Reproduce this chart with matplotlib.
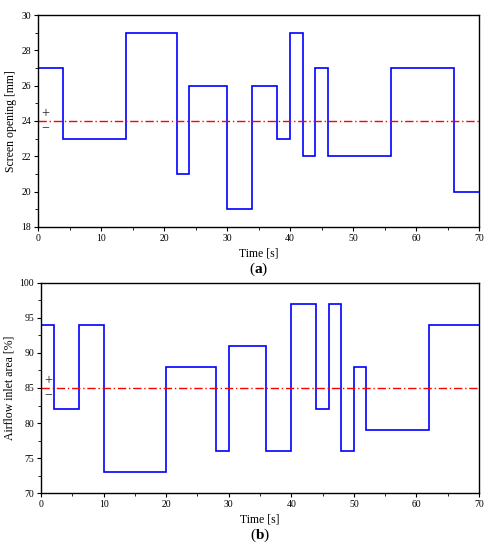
import numpy as np
import matplotlib
matplotlib.use("Agg")
import matplotlib.pyplot as plt
from matplotlib.ticker import MultipleLocator

plt.rcParams['font.family'] = ['Liberation Serif', 'DejaVu Serif']
plt.rcParams['mathtext.fontset'] = 'custom'
plt.rcParams['mathtext.rm'] = 'Liberation Serif'
plt.rcParams['mathtext.bf'] = 'Liberation Serif:bold'

# (a) screen opening, step changes
t_a = [0, 4, 14, 22, 24, 30, 34, 38, 40, 42, 44, 46, 56, 66, 70]
v_a = [27, 23, 29, 21, 26, 19, 26, 23, 29, 22, 27, 22, 27, 20]
ref_a = 24

# (b) airflow inlet area, step changes
t_b = [0, 2, 6, 10, 20, 28, 30, 36, 40, 44, 46, 48, 50, 52, 62, 70]
v_b = [94, 82, 94, 73, 88, 76, 91, 76, 97, 82, 97, 76, 88, 79, 94]
ref_b = 85

fig = plt.figure(figsize=(4.9, 5.5), dpi=100)
ax1 = fig.add_axes([0.0776, 0.5873, 0.9, 0.3854])
ax2 = fig.add_axes([0.0837, 0.1036, 0.8939, 0.3819])


def draw(ax, t, v, ref, ylim, ymaj, ylabel, tag, off):
    ax.stairs(v, t, color='#0000ff', lw=1.2, baseline=None)
    ax.axhline(ref, color='#ff0000', lw=1.0, ls=(0, (6, 2, 1, 2)))
    ax.text(1.2, ref + off, '+', ha='center', va='center', fontsize=10, color='#222222')
    ax.text(1.2, ref - off, '\u2212', ha='center', va='center', fontsize=10, color='#222222')
    ax.set_xlim(0, 70)
    ax.set_ylim(*ylim)
    ax.xaxis.set_major_locator(MultipleLocator(10))
    ax.xaxis.set_minor_locator(MultipleLocator(5))
    ax.yaxis.set_major_locator(MultipleLocator(ymaj))
    ax.yaxis.set_minor_locator(MultipleLocator(ymaj / 2))
    ax.tick_params(which='major', direction='out', length=3, width=0.8, labelsize=7, pad=2)
    ax.tick_params(which='minor', direction='out', length=2, width=0.6)
    for s in ax.spines.values():
        s.set_linewidth(1.0)
    ax.set_xlabel('Time [s]', fontsize=8.5, labelpad=3)
    ax.set_ylabel(ylabel, fontsize=8.5, labelpad=3)
    ax.text(0.5, -0.16, '(' + r'$\mathbf{' + tag + '}$' + ')', transform=ax.transAxes,
            ha='center', va='top', fontsize=11)


draw(ax1, t_a, v_a, ref_a, (18, 30), 2, 'Screen opening [mm]', 'a', 0.4)
draw(ax2, t_b, v_b, ref_b, (70, 100), 5, 'Airflow inlet area [%]', 'b', 1.0)

fig.savefig('out.png', dpi=100)
